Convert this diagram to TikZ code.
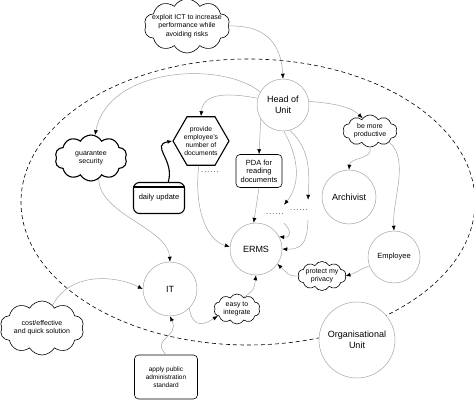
\documentclass[tikz,border=0pt]{standalone}
\usepackage{fontspec}
\setmainfont{Liberation Sans}
\usetikzlibrary{shapes.symbols,shapes.geometric,arrows.meta}

\newcommand{\dotrow}{.\kern1.2pt.\kern1.2pt.\kern1.2pt.\kern1.2pt.\kern1.2pt.}

\begin{document}
\begin{tikzpicture}[x=1pt,y=-1pt]
    \tikzstyle{actor}=[circle,draw=gray!70,line width=0.5pt,fill=white,align=center,inner sep=0pt,font=\fontsize{9}{10.5}\selectfont]
    \tikzstyle{softgoal}=[cloud,cloud puffs=10,cloud puff arc=120,cloud ignores aspect,draw,line width=0.6pt,fill=white,align=center,inner xsep=-14pt,inner ysep=-8pt,font=\fontsize{7}{8.3}\selectfont]
    \tikzstyle{resource}=[rectangle,rounded corners=4pt,draw,line width=0.6pt,fill=white,align=center,font=\fontsize{7.5}{8.5}\selectfont]
    \tikzstyle{elided}=[inner sep=0pt,minimum height=18pt,font=\fontsize{7}{8}\selectfont]
    \tikzstyle{link}=[draw=gray!70,line width=0.5pt,-{Latex[length=5pt,width=4pt,color=black]}]
    \useasboundingbox (0,0) rectangle (474,401);

    \draw[dash pattern=on 4pt off 3pt,line width=0.6pt] (248,202) ellipse (227pt and 143pt);

    \node[softgoal,minimum width=86pt,minimum height=54pt] (exploit) at (187,26) {exploit ICT to increase\\performance while\\avoiding risks};
    \node[actor,minimum size=52pt] (hou) at (283,105) {Head of\\Unit};
    \node[softgoal,minimum width=54pt,minimum height=32pt] (productive) at (370,131) {be more\\productive};
    \node[actor,minimum size=54pt] (archivist) at (349,197) {Archivist};
    \node[actor,minimum size=52pt,font=\fontsize{7.5}{9}\selectfont] (employee) at (394,257) {Employee};
    \node[actor,minimum size=52pt] (erms) at (256,249) {ERMS};
    \node[softgoal,minimum width=48pt,minimum height=29pt] (privacy) at (322,276) {protect my\\privacy};
    \node[actor,minimum size=54pt] (it) at (170,289) {IT};
    \node[softgoal,minimum width=46pt,minimum height=30pt] (integrate) at (237,309) {easy to\\integrate};
    \node[softgoal,minimum width=84pt,minimum height=54pt] (cost) at (42,328) {cost/effective\\and quick solution};
    \node[resource,minimum width=63pt,minimum height=44pt,font=\fontsize{6.5}{8}\selectfont] (standard) at (166,377) {apply public\\administration\\standard};
    \node[softgoal,line width=1.1pt,minimum width=72pt,minimum height=46pt] (security) at (91,158) {guarantee\\security};
    \node[regular polygon,regular polygon sides=6,draw,line width=1.1pt,minimum size=52pt,inner sep=0pt,align=center,font=\fontsize{6.8}{8}\selectfont] (documents) at (201,141) {provide\\employee's\\number of\\documents};
    \node[resource,line width=1.1pt,rounded corners=6pt,minimum width=51pt,minimum height=31pt] (daily) at (159,198) {daily update};
    \draw[line width=1.1pt] ([yshift=-5pt]daily.north west) -- ([yshift=-5pt]daily.north east);
    \node[resource,minimum width=46pt,minimum height=33pt] (pda) at (259,171) {PDA for\\reading\\documents};
    \node[elided] (dotsA) at (210,172) {\dotrow};
    \node[elided] (dotsB) at (275,214) {\dotrow};
    \node[elided,minimum height=20pt] (dotsC) at (299,210) {\dotrow};
    \node[actor,minimum size=76pt] (org) at (357,340) {Organisational\\Unit};

    % dependencies
    \draw[link] (exploit.east) .. controls (262,25) and (281,40) .. (hou.north);
    \draw[link] (hou.150) .. controls (220,60) and (108,68) .. (security.80);
    \draw[link] (hou.165) .. controls (230,93) and (203,92) .. (documents.north);
    \draw[link] (hou.212) .. controls (260,135) .. (pda.north);
    \draw[link] (hou.272) .. controls (300,160) and (300,185) .. (dotsB.north east);
    \draw[link] (hou.285) .. controls (312,150) and (309,178) .. (dotsC.north east);
    \draw[link] (hou.8) .. controls (330,103) and (350,106) .. (productive.120);
    \draw[link] (productive.south) .. controls (373,160) and (350,157) .. (archivist.north);
    \draw[link] (productive.-30) .. controls (410,160) and (392,200) .. (employee.north);
    \draw[link] (employee.200) .. controls (362,268) and (356,273) .. (privacy.east);
    \draw[link] (privacy.west) .. controls (290,276) .. (erms.-35);
    \draw[link] (dotsB.south east) .. controls (291,230) and (292,238) .. (erms.28);
    \draw[link] (dotsC.south east) .. controls (307,238) and (305,250) .. (erms.east);
    \draw[link] (pda.south) -- (erms.95);
    \draw[link] (documents.265) .. controls (194,205) and (205,240) .. (erms.175);
    \draw[link,draw=black,line width=1.1pt] (daily.60) .. controls (175,160) and (150,145) .. (documents.west);
    \draw[link] (security.-70) .. controls (100,215) and (168,228) .. (it.north);
    \draw[link] (cost.65) .. controls (70,272) and (115,275) .. (it.west);
    \draw[link] (standard.north) .. controls (150,338) and (180,338) .. (it.south);
    \draw[link] (it.-45) .. controls (193,330) and (205,324) .. (integrate.200);
    \draw[link] (integrate.60) .. controls (254,290) .. (erms.south);

\end{tikzpicture}
\end{document}
